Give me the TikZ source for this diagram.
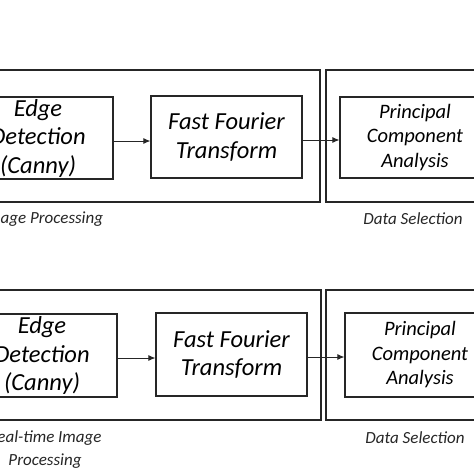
\documentclass[tikz,border=0pt]{standalone}
\usepackage{fontspec}
\setmainfont{Carlito}
\usetikzlibrary{arrows.meta}
\tikzset{
  outerbox/.style={draw=black!85, line width=1.3pt},
  stagebox/.style={draw=black!85, line width=1.3pt, align=center, inner sep=0pt,
    font=\itshape\fontsize{24.5}{28.5}\selectfont},
  pcabox/.style={stagebox, font=\itshape\fontsize{20.5}{24.5}\selectfont},
  caption/.style={align=center, inner sep=0pt, font=\itshape\fontsize{17}{23}\selectfont, text=black!85},
  flow/.style={draw=black!85, line width=0.8pt, -{Latex[length=7pt,width=6pt]}}
}
\begin{document}
\begin{tikzpicture}[x=1pt,y=-1pt]
\useasboundingbox (0,0) rectangle (474,474);
\fill[white] (0,0) rectangle (474,474);
\clip (0,0) rectangle (474,474);
% ---- top row ----
\draw[outerbox] (-10,70) rectangle (320,202);
\draw[outerbox] (326,70) rectangle (484,202);
\node[stagebox, minimum width=150pt, minimum height=82pt] (edgeA) at (38,138) {Edge\\Detection\\(Canny)};
\node[stagebox, minimum width=151pt, minimum height=82pt] (fftA) at (226.5,137) {Fast Fourier\\Transform};
\node[pcabox, minimum width=150pt, minimum height=81pt] (pcaA) at (415,137.5) {Principal\\Component\\Analysis};
\draw[flow] (edgeA.east |- 0,141) -- (fftA.west |- 0,141);
\draw[flow] (fftA.east |- 0,140) -- (pcaA.west |- 0,140);
\node[caption] (capA) at (43,219) {Image Processing};
\node[caption] (capB) at (413,219) {Data Selection};
% ---- bottom row ----
\draw[outerbox] (-10,290) rectangle (321,420);
\draw[outerbox] (326,290) rectangle (484,420);
\node[stagebox, minimum width=150pt, minimum height=83pt] (edgeB) at (42,355.5) {Edge\\Detection\\(Canny)};
\node[stagebox, minimum width=151pt, minimum height=83pt] (fftB) at (231.5,354.5) {Fast Fourier\\Transform};
\node[pcabox, minimum width=150pt, minimum height=84pt] (pcaB) at (420,355) {Principal\\Component\\Analysis};
\draw[flow] (edgeB.east |- 0,358) -- (fftB.west |- 0,358);
\draw[flow] (fftB.east |- 0,357) -- (pcaB.west |- 0,357);
\node[caption] (capC) at (45,449.5) {Real-time Image\\Processing};
\node[caption] (capD) at (415,438) {Data Selection};
\end{tikzpicture}
\end{document}
